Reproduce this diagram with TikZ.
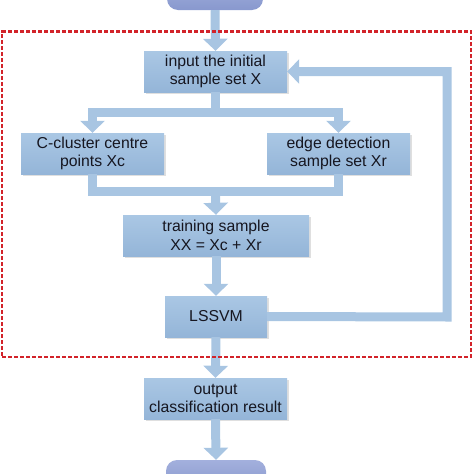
\documentclass[tikz,border=0pt]{standalone}
\usepackage{fontspec}
\setmainfont{Liberation Sans}
\usetikzlibrary{arrows.meta,shadows}
\definecolor{boxtop}{HTML}{AAC7E4}
\definecolor{boxbot}{HTML}{94B5D8}
\definecolor{arrowc}{HTML}{A8C5E2}
\definecolor{termtop}{HTML}{A3B0DD}
\definecolor{termbot}{HTML}{8898CE}
\definecolor{dashred}{HTML}{D2232A}
\definecolor{txt}{HTML}{161620}
\tikzset{
  procbox/.style={rectangle, top color=boxtop, bottom color=boxbot, draw=none,
    minimum height=41pt, inner sep=0pt, align=center, text=txt,
    font=\fontsize{15.8}{18.6}\selectfont,
    drop shadow={shadow xshift=1.5pt, shadow yshift=-1.5pt, opacity=.25}},
  termbox/.style={rectangle, rounded corners=11pt, top color=termtop, bottom color=termbot,
    draw=none, minimum height=30pt, inner sep=0pt},
  fatline/.style={draw=arrowc, line width=9pt, line join=miter},
  fatarrow/.style={fatline, -{Triangle[width=24pt,length=12pt]}},
}
\begin{document}
\begin{tikzpicture}[x=1pt,y=-1pt]
\useasboundingbox (0,0) rectangle (474,474);
\clip (0,0) rectangle (474,474);
% terminals
\node[termbox, minimum width=96pt] (start) at (215,-5) {};
\node[termbox, minimum width=100pt] (stop) at (216,475) {};
% boxes
\node[procbox, minimum width=143pt] (in) at (215.5,71.5) {input the initial\\sample set X};
\node[procbox, minimum width=143pt] (cc) at (92.5,153.5) {C-cluster centre\\points Xc};
\node[procbox, minimum width=143pt] (ed) at (338.5,153.5) {edge detection\\sample set Xr};
\node[procbox, minimum width=186pt] (tr) at (216,235.5) {training sample\\XX = Xc + Xr};
\node[procbox, minimum width=102pt] (ls) at (216,316.5) {LSSVM};
\node[procbox, minimum width=143pt] (out) at (215.5,398.5) {output\\classification result};
% junctions
\coordinate (j1) at (215.5,112);
\coordinate (j2) at (215.5,191);
\coordinate (fb) at (447,317);
% connectors
\draw[fatarrow] (start.south) -- (in.north);
\draw[fatline] (in.south) -- (j1);
\draw[fatarrow] ([xshift=4.5pt]j1) -| (cc.north);
\draw[fatarrow] ([xshift=-4.5pt]j1) -| (ed.north);
\draw[fatline] (cc.south) |- ([xshift=4.5pt]j2);
\draw[fatline] (ed.south) |- ([xshift=-4.5pt]j2);
\draw[fatarrow] ([yshift=-4.5pt]j2) -- (tr.north);
\draw[fatarrow] (tr.south) -- (ls.north);
\draw[fatarrow] (ls.east) -- (fb) |- (in.east);
\draw[fatarrow] (ls.south) -- (out.north);
\draw[fatarrow] (out.south) -- (stop.north);
% dashed frame
\node[draw=dashred, line width=2.4pt, dash pattern=on 4pt off 2pt, inner sep=0pt,
  minimum width=469pt, minimum height=325.5pt] (frame) at (236.5,194.25) {};
\end{tikzpicture}
\end{document}
